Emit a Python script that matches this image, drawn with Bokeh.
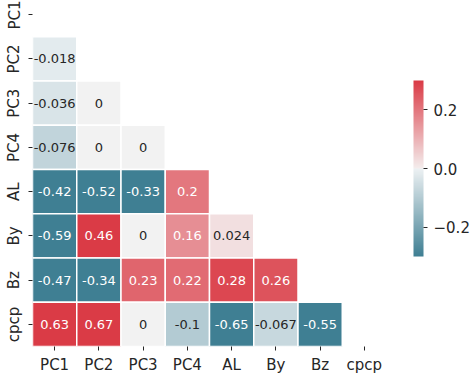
import math
import numpy as np
from bokeh.plotting import figure
from bokeh.models import (ColumnDataSource, LinearColorMapper, ColorBar, FixedTicker,
                          Range1d)
from bokeh.embed import file_html
from bokeh.resources import INLINE

# ---- data ----
labels = ["PC1", "PC2", "PC3", "PC4", "AL", "By", "Bz", "cpcp"]
row_PC2 = [-0.018]
row_PC3 = [-0.036, 0]
row_PC4 = [-0.076, 0, 0]
row_AL = [-0.42, -0.52, -0.33, 0.2]
row_By = [-0.59, 0.46, 0, 0.16, 0.024]
row_Bz = [-0.47, -0.34, 0.23, 0.22, 0.28, 0.26]
row_cpcp = [0.63, 0.67, 0, -0.1, -0.65, -0.067, -0.55]
rows = [[], row_PC2, row_PC3, row_PC4, row_AL, row_By, row_Bz, row_cpcp]
vmin, vmax = -0.3, 0.3

# ---- palette (seaborn diverging 220 -> 10 approximation) ----
def hex2rgb(h):
    h = h.lstrip("#")
    return np.array([int(h[i:i + 2], 16) for i in (0, 2, 4)], dtype=float)

stops = [hex2rgb(c) for c in ["#3f7f93", "#edf1f3", "#f2f2f2", "#f4eded", "#da3b46"]]
pos = [0.0, 0.498, 0.5, 0.502, 1.0]

def cmap(t):
    rgb = [np.interp(t, pos, [s[c] for s in stops]) for c in range(3)]
    return "#%02x%02x%02x" % tuple(int(round(v)) for v in rgb)

N = 256
palette = [cmap(k / (N - 1)) for k in range(N)]

def lum(hexc):
    rgb = hex2rgb(hexc) / 255.0
    lin = np.where(rgb <= 0.03928, rgb / 12.92, ((rgb + 0.055) / 1.055) ** 2.4)
    return 0.2126 * lin[0] + 0.7152 * lin[1] + 0.0722 * lin[2]

def fmt(v):
    s = "%.2g" % v
    if s.startswith("0.") or s.startswith("-0."):
        return s
    return s

xs, ys, vals, cols, txts, tcols = [], [], [], [], [], []
for r, row in enumerate(rows):
    for c, v in enumerate(row):
        xs.append(c + 0.5)
        ys.append(r + 0.5)
        vals.append(v)
        col = cmap(float(np.clip((v - vmin) / (vmax - vmin), 0, 1)))
        cols.append(col)
        txts.append(fmt(v))
        tcols.append("#262626" if lum(col) > 0.408 else "#ffffff")

src = ColumnDataSource(dict(x=xs, y=ys, v=vals, color=cols, txt=txts, tcol=tcols))

p = figure(width=474, height=377, output_backend="svg", toolbar_location=None,
           x_range=Range1d(0, 8), y_range=Range1d(8, 0.18),
           min_border_left=32, min_border_right=88, min_border_top=0,
           min_border_bottom=31)
p.outline_line_color = None
p.grid.visible = False
p.background_fill_color = "white"

p.rect(x="x", y="y", width=1, height=1, source=src, fill_color="color",
       line_color="white", line_width=1.5)
p.text(x="x", y="y", text="txt", source=src, text_color="tcol",
       text_align="center", text_baseline="middle", text_font_size="13px",
       text_font={"value": "DejaVu Sans"})

ticks = [i + 0.5 for i in range(8)]
over = {t: l for t, l in zip(ticks, labels)}
for ax in (p.xaxis[0], p.yaxis[0]):
    ax.ticker = FixedTicker(ticks=ticks)
    ax.major_label_overrides = over
    ax.axis_line_color = None
    ax.minor_tick_line_color = None
    ax.major_tick_in = 0
    ax.major_tick_out = 4
    ax.major_tick_line_color = "#262626"
    ax.major_label_text_font = "DejaVu Sans"
    ax.major_label_text_font_size = "15px"
    ax.major_label_text_color = "#262626"
    ax.major_label_standoff = 5
p.yaxis[0].major_label_orientation = "vertical"

mapper = LinearColorMapper(palette=palette, low=vmin, high=vmax)
cb = ColorBar(color_mapper=mapper, ticker=FixedTicker(ticks=[-0.2, 0.0, 0.2]),
              major_label_overrides={-0.2: "\u22120.2", 0.0: "0.0", 0.2: "0.2"},
              width=10, height=176, padding=0, location=(381, 90),
              bar_line_color=None, border_line_color=None,
              background_fill_color=None, background_fill_alpha=0,
              major_tick_out=4, major_tick_in=0, major_tick_line_color="#262626",
              minor_tick_line_color=None, label_standoff=6,
              major_label_text_font="DejaVu Sans", major_label_text_font_size="15px",
              major_label_text_color="#262626")
p.add_layout(cb, "center")

open("out.html", "w").write(file_html(p, INLINE))
